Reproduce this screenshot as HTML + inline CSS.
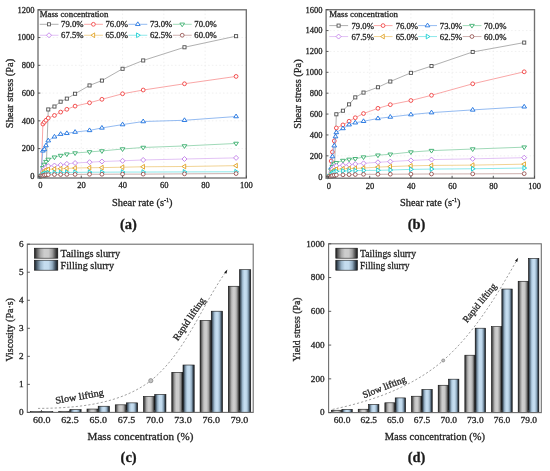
<!DOCTYPE html>
<html><head><meta charset="utf-8"><title>Rheological figure</title>
<style>html,body{margin:0;padding:0;background:#fff}svg{display:block}</style></head>
<body><svg width="550" height="471" viewBox="0 0 550 471">
<rect width="550" height="471" fill="#fff"/>
<g stroke="#e9e9e9" stroke-width="0.7" stroke-dasharray="1.5 2.2" fill="none"><line x1="81.28" y1="9.8" x2="81.28" y2="178"/><line x1="122.56" y1="9.8" x2="122.56" y2="178"/><line x1="163.84" y1="9.8" x2="163.84" y2="178"/><line x1="205.12" y1="9.8" x2="205.12" y2="178"/><line x1="38" y1="148.59" x2="246.3" y2="148.59"/><line x1="38" y1="120.83" x2="246.3" y2="120.83"/><line x1="38" y1="93.08" x2="246.3" y2="93.08"/><line x1="38" y1="65.32" x2="246.3" y2="65.32"/><line x1="38" y1="37.56" x2="246.3" y2="37.56"/></g>
<polyline points="42.89,175.93 44.33,175.66 45.99,175.24 48.26,109.45 54.45,106.54 60.64,101.68 66.83,98.63 75.09,93.77 89.54,85.44 101.92,80.58 122.56,68.79 143.2,60.46 184.48,47.27 236.08,36.17" fill="none" stroke="#9c9c9c" stroke-width="0.8"/>
<rect x="41.34" y="174.38" width="3.1" height="3.1" fill="#fff" stroke="#515151" stroke-width="0.9"/><rect x="42.78" y="174.11" width="3.1" height="3.1" fill="#fff" stroke="#515151" stroke-width="0.9"/><rect x="44.44" y="173.69" width="3.1" height="3.1" fill="#fff" stroke="#515151" stroke-width="0.9"/><rect x="46.71" y="107.9" width="3.1" height="3.1" fill="#fff" stroke="#515151" stroke-width="0.9"/><rect x="52.9" y="104.99" width="3.1" height="3.1" fill="#fff" stroke="#515151" stroke-width="0.9"/><rect x="59.09" y="100.13" width="3.1" height="3.1" fill="#fff" stroke="#515151" stroke-width="0.9"/><rect x="65.28" y="97.08" width="3.1" height="3.1" fill="#fff" stroke="#515151" stroke-width="0.9"/><rect x="73.54" y="92.22" width="3.1" height="3.1" fill="#fff" stroke="#515151" stroke-width="0.9"/><rect x="87.99" y="83.89" width="3.1" height="3.1" fill="#fff" stroke="#515151" stroke-width="0.9"/><rect x="100.37" y="79.03" width="3.1" height="3.1" fill="#fff" stroke="#515151" stroke-width="0.9"/><rect x="121.01" y="67.24" width="3.1" height="3.1" fill="#fff" stroke="#515151" stroke-width="0.9"/><rect x="141.65" y="58.91" width="3.1" height="3.1" fill="#fff" stroke="#515151" stroke-width="0.9"/><rect x="182.93" y="45.72" width="3.1" height="3.1" fill="#fff" stroke="#515151" stroke-width="0.9"/><rect x="234.53" y="34.62" width="3.1" height="3.1" fill="#fff" stroke="#515151" stroke-width="0.9"/>
<polyline points="41.24,175.66 42.89,124.03 44.33,122.22 45.99,120.28 48.26,118.06 54.45,115.42 60.64,112.09 66.83,109.31 75.09,106.12 89.54,102.79 101.92,99.32 122.56,93.77 143.2,90.02 184.48,83.78 236.08,76.42" fill="none" stroke="#f79090" stroke-width="0.8"/>
<circle cx="41.24" cy="175.66" r="1.9" fill="#fff" stroke="#F14040" stroke-width="0.9"/><circle cx="42.89" cy="124.03" r="1.9" fill="#fff" stroke="#F14040" stroke-width="0.9"/><circle cx="44.33" cy="122.22" r="1.9" fill="#fff" stroke="#F14040" stroke-width="0.9"/><circle cx="45.99" cy="120.28" r="1.9" fill="#fff" stroke="#F14040" stroke-width="0.9"/><circle cx="48.26" cy="118.06" r="1.9" fill="#fff" stroke="#F14040" stroke-width="0.9"/><circle cx="54.45" cy="115.42" r="1.9" fill="#fff" stroke="#F14040" stroke-width="0.9"/><circle cx="60.64" cy="112.09" r="1.9" fill="#fff" stroke="#F14040" stroke-width="0.9"/><circle cx="66.83" cy="109.31" r="1.9" fill="#fff" stroke="#F14040" stroke-width="0.9"/><circle cx="75.09" cy="106.12" r="1.9" fill="#fff" stroke="#F14040" stroke-width="0.9"/><circle cx="89.54" cy="102.79" r="1.9" fill="#fff" stroke="#F14040" stroke-width="0.9"/><circle cx="101.92" cy="99.32" r="1.9" fill="#fff" stroke="#F14040" stroke-width="0.9"/><circle cx="122.56" cy="93.77" r="1.9" fill="#fff" stroke="#F14040" stroke-width="0.9"/><circle cx="143.2" cy="90.02" r="1.9" fill="#fff" stroke="#F14040" stroke-width="0.9"/><circle cx="184.48" cy="83.78" r="1.9" fill="#fff" stroke="#F14040" stroke-width="0.9"/><circle cx="236.08" cy="76.42" r="1.9" fill="#fff" stroke="#F14040" stroke-width="0.9"/>
<polyline points="40.62,175.93 42.89,150.81 44.33,149.42 45.99,145.54 48.26,140.68 54.45,136.79 60.64,134.16 66.83,133.32 75.09,132.08 89.54,130.41 101.92,127.91 122.56,124.58 143.2,121.53 184.48,120.28 236.08,116.53" fill="none" stroke="#78aaee" stroke-width="0.8"/>
<polygon points="40.62,173.47 42.97,177.17 38.27,177.17" fill="#fff" stroke="#1A6FDF" stroke-width="0.9" stroke-linejoin="round"/><polygon points="42.89,148.35 45.24,152.05 40.54,152.05" fill="#fff" stroke="#1A6FDF" stroke-width="0.9" stroke-linejoin="round"/><polygon points="44.33,146.96 46.68,150.66 41.98,150.66" fill="#fff" stroke="#1A6FDF" stroke-width="0.9" stroke-linejoin="round"/><polygon points="45.99,143.07 48.34,146.77 43.64,146.77" fill="#fff" stroke="#1A6FDF" stroke-width="0.9" stroke-linejoin="round"/><polygon points="48.26,138.21 50.61,141.91 45.91,141.91" fill="#fff" stroke="#1A6FDF" stroke-width="0.9" stroke-linejoin="round"/><polygon points="54.45,134.33 56.8,138.03 52.1,138.03" fill="#fff" stroke="#1A6FDF" stroke-width="0.9" stroke-linejoin="round"/><polygon points="60.64,131.69 62.99,135.39 58.29,135.39" fill="#fff" stroke="#1A6FDF" stroke-width="0.9" stroke-linejoin="round"/><polygon points="66.83,130.86 69.18,134.56 64.48,134.56" fill="#fff" stroke="#1A6FDF" stroke-width="0.9" stroke-linejoin="round"/><polygon points="75.09,129.61 77.44,133.31 72.74,133.31" fill="#fff" stroke="#1A6FDF" stroke-width="0.9" stroke-linejoin="round"/><polygon points="89.54,127.94 91.89,131.64 87.19,131.64" fill="#fff" stroke="#1A6FDF" stroke-width="0.9" stroke-linejoin="round"/><polygon points="101.92,125.45 104.27,129.15 99.57,129.15" fill="#fff" stroke="#1A6FDF" stroke-width="0.9" stroke-linejoin="round"/><polygon points="122.56,122.11 124.91,125.81 120.21,125.81" fill="#fff" stroke="#1A6FDF" stroke-width="0.9" stroke-linejoin="round"/><polygon points="143.2,119.06 145.55,122.76 140.85,122.76" fill="#fff" stroke="#1A6FDF" stroke-width="0.9" stroke-linejoin="round"/><polygon points="184.48,117.81 186.83,121.51 182.13,121.51" fill="#fff" stroke="#1A6FDF" stroke-width="0.9" stroke-linejoin="round"/><polygon points="236.08,114.06 238.43,117.76 233.73,117.76" fill="#fff" stroke="#1A6FDF" stroke-width="0.9" stroke-linejoin="round"/>
<polyline points="40.41,176.07 42.89,167.74 44.33,164.41 45.99,161.64 48.26,159.42 54.45,157.2 60.64,155.53 66.83,154.14 75.09,153.03 89.54,151.92 101.92,150.95 122.56,149.01 143.2,147.48 184.48,145.95 236.08,143.46" fill="none" stroke="#88cfa6" stroke-width="0.8"/>
<polygon points="40.41,178.54 42.76,174.84 38.06,174.84" fill="#fff" stroke="#37AD6B" stroke-width="0.9" stroke-linejoin="round"/><polygon points="42.89,170.21 45.24,166.51 40.54,166.51" fill="#fff" stroke="#37AD6B" stroke-width="0.9" stroke-linejoin="round"/><polygon points="44.33,166.88 46.68,163.18 41.98,163.18" fill="#fff" stroke="#37AD6B" stroke-width="0.9" stroke-linejoin="round"/><polygon points="45.99,164.1 48.34,160.4 43.64,160.4" fill="#fff" stroke="#37AD6B" stroke-width="0.9" stroke-linejoin="round"/><polygon points="48.26,161.88 50.61,158.18 45.91,158.18" fill="#fff" stroke="#37AD6B" stroke-width="0.9" stroke-linejoin="round"/><polygon points="54.45,159.66 56.8,155.96 52.1,155.96" fill="#fff" stroke="#37AD6B" stroke-width="0.9" stroke-linejoin="round"/><polygon points="60.64,158 62.99,154.3 58.29,154.3" fill="#fff" stroke="#37AD6B" stroke-width="0.9" stroke-linejoin="round"/><polygon points="66.83,156.61 69.18,152.91 64.48,152.91" fill="#fff" stroke="#37AD6B" stroke-width="0.9" stroke-linejoin="round"/><polygon points="75.09,155.5 77.44,151.8 72.74,151.8" fill="#fff" stroke="#37AD6B" stroke-width="0.9" stroke-linejoin="round"/><polygon points="89.54,154.39 91.89,150.69 87.19,150.69" fill="#fff" stroke="#37AD6B" stroke-width="0.9" stroke-linejoin="round"/><polygon points="101.92,153.42 104.27,149.72 99.57,149.72" fill="#fff" stroke="#37AD6B" stroke-width="0.9" stroke-linejoin="round"/><polygon points="122.56,151.47 124.91,147.77 120.21,147.77" fill="#fff" stroke="#37AD6B" stroke-width="0.9" stroke-linejoin="round"/><polygon points="143.2,149.95 145.55,146.25 140.85,146.25" fill="#fff" stroke="#37AD6B" stroke-width="0.9" stroke-linejoin="round"/><polygon points="184.48,148.42 186.83,144.72 182.13,144.72" fill="#fff" stroke="#37AD6B" stroke-width="0.9" stroke-linejoin="round"/><polygon points="236.08,145.92 238.43,142.22 233.73,142.22" fill="#fff" stroke="#37AD6B" stroke-width="0.9" stroke-linejoin="round"/>
<polyline points="40.41,176.07 42.89,171.35 44.33,168.86 45.99,167.19 48.26,166.08 54.45,165.52 60.64,164.97 66.83,163.86 75.09,163.03 89.54,162.19 101.92,161.5 122.56,160.81 143.2,159.97 184.48,159 236.08,157.89" fill="none" stroke="#dcb4f2" stroke-width="0.8"/>
<polygon points="40.41,173.57 42.91,176.07 40.41,178.57 37.91,176.07" fill="#fff" stroke="#C07DE8" stroke-width="0.9" stroke-linejoin="round"/><polygon points="42.89,168.85 45.39,171.35 42.89,173.85 40.39,171.35" fill="#fff" stroke="#C07DE8" stroke-width="0.9" stroke-linejoin="round"/><polygon points="44.33,166.36 46.83,168.86 44.33,171.36 41.83,168.86" fill="#fff" stroke="#C07DE8" stroke-width="0.9" stroke-linejoin="round"/><polygon points="45.99,164.69 48.49,167.19 45.99,169.69 43.49,167.19" fill="#fff" stroke="#C07DE8" stroke-width="0.9" stroke-linejoin="round"/><polygon points="48.26,163.58 50.76,166.08 48.26,168.58 45.76,166.08" fill="#fff" stroke="#C07DE8" stroke-width="0.9" stroke-linejoin="round"/><polygon points="54.45,163.02 56.95,165.52 54.45,168.02 51.95,165.52" fill="#fff" stroke="#C07DE8" stroke-width="0.9" stroke-linejoin="round"/><polygon points="60.64,162.47 63.14,164.97 60.64,167.47 58.14,164.97" fill="#fff" stroke="#C07DE8" stroke-width="0.9" stroke-linejoin="round"/><polygon points="66.83,161.36 69.33,163.86 66.83,166.36 64.33,163.86" fill="#fff" stroke="#C07DE8" stroke-width="0.9" stroke-linejoin="round"/><polygon points="75.09,160.53 77.59,163.03 75.09,165.53 72.59,163.03" fill="#fff" stroke="#C07DE8" stroke-width="0.9" stroke-linejoin="round"/><polygon points="89.54,159.69 92.04,162.19 89.54,164.69 87.04,162.19" fill="#fff" stroke="#C07DE8" stroke-width="0.9" stroke-linejoin="round"/><polygon points="101.92,159 104.42,161.5 101.92,164 99.42,161.5" fill="#fff" stroke="#C07DE8" stroke-width="0.9" stroke-linejoin="round"/><polygon points="122.56,158.31 125.06,160.81 122.56,163.31 120.06,160.81" fill="#fff" stroke="#C07DE8" stroke-width="0.9" stroke-linejoin="round"/><polygon points="143.2,157.47 145.7,159.97 143.2,162.47 140.7,159.97" fill="#fff" stroke="#C07DE8" stroke-width="0.9" stroke-linejoin="round"/><polygon points="184.48,156.5 186.98,159 184.48,161.5 181.98,159" fill="#fff" stroke="#C07DE8" stroke-width="0.9" stroke-linejoin="round"/><polygon points="236.08,155.39 238.58,157.89 236.08,160.39 233.58,157.89" fill="#fff" stroke="#C07DE8" stroke-width="0.9" stroke-linejoin="round"/>
<polyline points="40.41,176.07 42.89,172.88 44.33,171.08 45.99,169.97 48.26,169.41 54.45,168.99 60.64,168.72 66.83,168.44 75.09,168.02 89.54,167.74 101.92,167.61 122.56,167.19 143.2,166.77 184.48,166.5 236.08,165.66" fill="none" stroke="#edc878" stroke-width="0.8"/>
<polygon points="37.95,176.07 41.65,173.72 41.65,178.42" fill="#fff" stroke="#E0A020" stroke-width="0.9" stroke-linejoin="round"/><polygon points="40.42,172.88 44.12,170.53 44.12,175.23" fill="#fff" stroke="#E0A020" stroke-width="0.9" stroke-linejoin="round"/><polygon points="41.87,171.08 45.57,168.73 45.57,173.43" fill="#fff" stroke="#E0A020" stroke-width="0.9" stroke-linejoin="round"/><polygon points="43.52,169.97 47.22,167.62 47.22,172.32" fill="#fff" stroke="#E0A020" stroke-width="0.9" stroke-linejoin="round"/><polygon points="45.79,169.41 49.49,167.06 49.49,171.76" fill="#fff" stroke="#E0A020" stroke-width="0.9" stroke-linejoin="round"/><polygon points="51.98,168.99 55.68,166.64 55.68,171.34" fill="#fff" stroke="#E0A020" stroke-width="0.9" stroke-linejoin="round"/><polygon points="58.17,168.72 61.87,166.37 61.87,171.07" fill="#fff" stroke="#E0A020" stroke-width="0.9" stroke-linejoin="round"/><polygon points="64.37,168.44 68.07,166.09 68.07,170.79" fill="#fff" stroke="#E0A020" stroke-width="0.9" stroke-linejoin="round"/><polygon points="72.62,168.02 76.32,165.67 76.32,170.37" fill="#fff" stroke="#E0A020" stroke-width="0.9" stroke-linejoin="round"/><polygon points="87.07,167.74 90.77,165.39 90.77,170.09" fill="#fff" stroke="#E0A020" stroke-width="0.9" stroke-linejoin="round"/><polygon points="99.45,167.61 103.15,165.26 103.15,169.96" fill="#fff" stroke="#E0A020" stroke-width="0.9" stroke-linejoin="round"/><polygon points="120.09,167.19 123.79,164.84 123.79,169.54" fill="#fff" stroke="#E0A020" stroke-width="0.9" stroke-linejoin="round"/><polygon points="140.73,166.77 144.43,164.42 144.43,169.12" fill="#fff" stroke="#E0A020" stroke-width="0.9" stroke-linejoin="round"/><polygon points="182.01,166.5 185.71,164.15 185.71,168.85" fill="#fff" stroke="#E0A020" stroke-width="0.9" stroke-linejoin="round"/><polygon points="233.61,165.66 237.31,163.31 237.31,168.01" fill="#fff" stroke="#E0A020" stroke-width="0.9" stroke-linejoin="round"/>
<polyline points="40.41,176.21 42.89,174.68 44.33,173.85 45.99,173.3 48.26,172.88 54.45,172.74 60.64,172.6 66.83,172.46 75.09,172.33 89.54,172.19 101.92,172.19 122.56,172.05 143.2,172.05 184.48,171.91 236.08,171.77" fill="none" stroke="#70e2e4" stroke-width="0.8"/>
<polygon points="42.88,176.21 39.18,173.86 39.18,178.56" fill="#fff" stroke="#10CCD0" stroke-width="0.9" stroke-linejoin="round"/><polygon points="45.36,174.68 41.66,172.33 41.66,177.03" fill="#fff" stroke="#10CCD0" stroke-width="0.9" stroke-linejoin="round"/><polygon points="46.8,173.85 43.1,171.5 43.1,176.2" fill="#fff" stroke="#10CCD0" stroke-width="0.9" stroke-linejoin="round"/><polygon points="48.45,173.3 44.75,170.95 44.75,175.65" fill="#fff" stroke="#10CCD0" stroke-width="0.9" stroke-linejoin="round"/><polygon points="50.72,172.88 47.02,170.53 47.02,175.23" fill="#fff" stroke="#10CCD0" stroke-width="0.9" stroke-linejoin="round"/><polygon points="56.91,172.74 53.21,170.39 53.21,175.09" fill="#fff" stroke="#10CCD0" stroke-width="0.9" stroke-linejoin="round"/><polygon points="63.11,172.6 59.41,170.25 59.41,174.95" fill="#fff" stroke="#10CCD0" stroke-width="0.9" stroke-linejoin="round"/><polygon points="69.3,172.46 65.6,170.11 65.6,174.81" fill="#fff" stroke="#10CCD0" stroke-width="0.9" stroke-linejoin="round"/><polygon points="77.55,172.33 73.85,169.98 73.85,174.68" fill="#fff" stroke="#10CCD0" stroke-width="0.9" stroke-linejoin="round"/><polygon points="92,172.19 88.3,169.84 88.3,174.54" fill="#fff" stroke="#10CCD0" stroke-width="0.9" stroke-linejoin="round"/><polygon points="104.39,172.19 100.69,169.84 100.69,174.54" fill="#fff" stroke="#10CCD0" stroke-width="0.9" stroke-linejoin="round"/><polygon points="125.03,172.05 121.33,169.7 121.33,174.4" fill="#fff" stroke="#10CCD0" stroke-width="0.9" stroke-linejoin="round"/><polygon points="145.67,172.05 141.97,169.7 141.97,174.4" fill="#fff" stroke="#10CCD0" stroke-width="0.9" stroke-linejoin="round"/><polygon points="186.95,171.91 183.25,169.56 183.25,174.26" fill="#fff" stroke="#10CCD0" stroke-width="0.9" stroke-linejoin="round"/><polygon points="238.55,171.77 234.85,169.42 234.85,174.12" fill="#fff" stroke="#10CCD0" stroke-width="0.9" stroke-linejoin="round"/>
<polyline points="40.41,176.21 42.89,175.52 44.33,175.1 45.99,174.82 48.26,174.68 54.45,174.55 60.64,174.55 66.83,174.41 75.09,174.41 89.54,174.27 101.92,174.27 122.56,174.13 143.2,174.13 184.48,173.85 236.08,173.57" fill="none" stroke="#c09a98" stroke-width="0.8"/>
<circle cx="40.41" cy="176.21" r="1.9" fill="#fff" stroke="#94504E" stroke-width="0.9"/><circle cx="42.89" cy="175.52" r="1.9" fill="#fff" stroke="#94504E" stroke-width="0.9"/><circle cx="44.33" cy="175.1" r="1.9" fill="#fff" stroke="#94504E" stroke-width="0.9"/><circle cx="45.99" cy="174.82" r="1.9" fill="#fff" stroke="#94504E" stroke-width="0.9"/><circle cx="48.26" cy="174.68" r="1.9" fill="#fff" stroke="#94504E" stroke-width="0.9"/><circle cx="54.45" cy="174.55" r="1.9" fill="#fff" stroke="#94504E" stroke-width="0.9"/><circle cx="60.64" cy="174.55" r="1.9" fill="#fff" stroke="#94504E" stroke-width="0.9"/><circle cx="66.83" cy="174.41" r="1.9" fill="#fff" stroke="#94504E" stroke-width="0.9"/><circle cx="75.09" cy="174.41" r="1.9" fill="#fff" stroke="#94504E" stroke-width="0.9"/><circle cx="89.54" cy="174.27" r="1.9" fill="#fff" stroke="#94504E" stroke-width="0.9"/><circle cx="101.92" cy="174.27" r="1.9" fill="#fff" stroke="#94504E" stroke-width="0.9"/><circle cx="122.56" cy="174.13" r="1.9" fill="#fff" stroke="#94504E" stroke-width="0.9"/><circle cx="143.2" cy="174.13" r="1.9" fill="#fff" stroke="#94504E" stroke-width="0.9"/><circle cx="184.48" cy="173.85" r="1.9" fill="#fff" stroke="#94504E" stroke-width="0.9"/><circle cx="236.08" cy="173.57" r="1.9" fill="#fff" stroke="#94504E" stroke-width="0.9"/>
<rect x="38" y="9.8" width="208.3" height="168.2" fill="none" stroke="#707070" stroke-width="1.35"/>
<g stroke="#4a4a4a" stroke-width="0.9"><line x1="40" y1="178" x2="40" y2="175.6"/><line x1="81.28" y1="178" x2="81.28" y2="175.6"/><line x1="122.56" y1="178" x2="122.56" y2="175.6"/><line x1="163.84" y1="178" x2="163.84" y2="175.6"/><line x1="205.12" y1="178" x2="205.12" y2="175.6"/><line x1="246.4" y1="178" x2="246.4" y2="175.6"/><line x1="38" y1="176.35" x2="40.4" y2="176.35"/><line x1="38" y1="148.59" x2="40.4" y2="148.59"/><line x1="38" y1="120.83" x2="40.4" y2="120.83"/><line x1="38" y1="93.08" x2="40.4" y2="93.08"/><line x1="38" y1="65.32" x2="40.4" y2="65.32"/><line x1="38" y1="37.56" x2="40.4" y2="37.56"/><line x1="38" y1="9.8" x2="40.4" y2="9.8"/></g>
<g font-family="Liberation Serif, serif" stroke="#262626" stroke-width="0.3" font-size="8.5" fill="#262626">
<text x="40.3" y="188.3" text-anchor="middle">0</text>
<text x="81.58" y="188.3" text-anchor="middle">20</text>
<text x="122.86" y="188.3" text-anchor="middle">40</text>
<text x="164.14" y="188.3" text-anchor="middle">60</text>
<text x="205.42" y="188.3" text-anchor="middle">80</text>
<text x="246.4" y="188.3" text-anchor="middle">100</text>
<text x="34.4" y="179.25" text-anchor="end">0</text>
<text x="34.4" y="151.49" text-anchor="end">200</text>
<text x="34.4" y="123.73" text-anchor="end">400</text>
<text x="34.4" y="95.98" text-anchor="end">600</text>
<text x="34.4" y="68.22" text-anchor="end">800</text>
<text x="34.4" y="40.46" text-anchor="end">1000</text>
<text x="34.4" y="12.7" text-anchor="end">1200</text>
</g>
<text font-family="Liberation Serif, serif" stroke="#262626" stroke-width="0.3" font-size="10.4" fill="#262626" text-anchor="middle" transform="translate(12.9,93.5) rotate(-90)">Shear stress (Pa)</text>
<text font-family="Liberation Serif, serif" stroke="#262626" stroke-width="0.3" font-size="10.4" fill="#262626" text-anchor="middle" x="142.3" y="206.4">Shear rate (s<tspan font-size="6.2" dy="-4.2">-1</tspan><tspan dy="4.2">)</tspan></text>
<text font-family="Liberation Serif, serif" stroke="#262626" stroke-width="0.3" font-size="14.5" font-weight="bold" fill="#1a1a1a" text-anchor="middle" x="128.4" y="229">(a)</text>
<text font-family="Liberation Serif, serif" stroke="#262626" stroke-width="0.3" font-size="8.8" fill="#262626" x="39.7" y="16.7">Mass concentration</text>
<line x1="39.7" y1="24.3" x2="58.5" y2="24.3" stroke="#9c9c9c" stroke-width="0.8"/>
<rect x="47.45" y="22.75" width="3.1" height="3.1" fill="#fff" stroke="#515151" stroke-width="0.85"/>
<text font-family="Liberation Serif, serif" stroke="#262626" stroke-width="0.3" font-size="8.7" fill="#262626" x="61.1" y="27.3">79.0%</text>
<line x1="84.1" y1="24.3" x2="102.9" y2="24.3" stroke="#f79090" stroke-width="0.8"/>
<circle cx="93.4" cy="24.3" r="1.9" fill="#fff" stroke="#F14040" stroke-width="0.85"/>
<text font-family="Liberation Serif, serif" stroke="#262626" stroke-width="0.3" font-size="8.7" fill="#262626" x="105.5" y="27.3">76.0%</text>
<line x1="128.5" y1="24.3" x2="147.3" y2="24.3" stroke="#78aaee" stroke-width="0.8"/>
<polygon points="137.8,21.83 140.15,25.53 135.45,25.53" fill="#fff" stroke="#1A6FDF" stroke-width="0.85" stroke-linejoin="round"/>
<text font-family="Liberation Serif, serif" stroke="#262626" stroke-width="0.3" font-size="8.7" fill="#262626" x="149.9" y="27.3">73.0%</text>
<line x1="172.9" y1="24.3" x2="191.7" y2="24.3" stroke="#88cfa6" stroke-width="0.8"/>
<polygon points="182.2,26.77 184.55,23.07 179.85,23.07" fill="#fff" stroke="#37AD6B" stroke-width="0.85" stroke-linejoin="round"/>
<text font-family="Liberation Serif, serif" stroke="#262626" stroke-width="0.3" font-size="8.7" fill="#262626" x="194.3" y="27.3">70.0%</text>
<line x1="39.7" y1="35.25" x2="58.5" y2="35.25" stroke="#dcb4f2" stroke-width="0.8"/>
<polygon points="49,32.75 51.5,35.25 49,37.75 46.5,35.25" fill="#fff" stroke="#C07DE8" stroke-width="0.85" stroke-linejoin="round"/>
<text font-family="Liberation Serif, serif" stroke="#262626" stroke-width="0.3" font-size="8.7" fill="#262626" x="61.1" y="38.25">67.5%</text>
<line x1="84.1" y1="35.25" x2="102.9" y2="35.25" stroke="#edc878" stroke-width="0.8"/>
<polygon points="90.93,35.25 94.63,32.9 94.63,37.6" fill="#fff" stroke="#E0A020" stroke-width="0.85" stroke-linejoin="round"/>
<text font-family="Liberation Serif, serif" stroke="#262626" stroke-width="0.3" font-size="8.7" fill="#262626" x="105.5" y="38.25">65.0%</text>
<line x1="128.5" y1="35.25" x2="147.3" y2="35.25" stroke="#70e2e4" stroke-width="0.8"/>
<polygon points="140.27,35.25 136.57,32.9 136.57,37.6" fill="#fff" stroke="#10CCD0" stroke-width="0.85" stroke-linejoin="round"/>
<text font-family="Liberation Serif, serif" stroke="#262626" stroke-width="0.3" font-size="8.7" fill="#262626" x="149.9" y="38.25">62.5%</text>
<line x1="172.9" y1="35.25" x2="191.7" y2="35.25" stroke="#c09a98" stroke-width="0.8"/>
<circle cx="182.2" cy="35.25" r="1.9" fill="#fff" stroke="#94504E" stroke-width="0.85"/>
<text font-family="Liberation Serif, serif" stroke="#262626" stroke-width="0.3" font-size="8.7" fill="#262626" x="194.3" y="38.25">60.0%</text>
<g stroke="#e9e9e9" stroke-width="0.7" stroke-dasharray="1.5 2.2" fill="none"><line x1="369.7" y1="9.7" x2="369.7" y2="178.2"/><line x1="410.9" y1="9.7" x2="410.9" y2="178.2"/><line x1="452.1" y1="9.7" x2="452.1" y2="178.2"/><line x1="493.3" y1="9.7" x2="493.3" y2="178.2"/><line x1="326.1" y1="155.82" x2="534.5" y2="155.82"/><line x1="326.1" y1="134.95" x2="534.5" y2="134.95"/><line x1="326.1" y1="114.07" x2="534.5" y2="114.07"/><line x1="326.1" y1="93.2" x2="534.5" y2="93.2"/><line x1="326.1" y1="72.32" x2="534.5" y2="72.32"/><line x1="326.1" y1="51.45" x2="534.5" y2="51.45"/><line x1="326.1" y1="30.57" x2="534.5" y2="30.57"/></g>
<polyline points="331.18,176.39 332.41,176.18 334.27,175.86 336.33,114.28 342.92,110.73 349.1,104.37 355.28,97.37 363.52,92.57 377.94,87.25 390.3,81.51 410.9,72.85 431.5,66.06 472.7,51.97 524.2,42.58" fill="none" stroke="#9c9c9c" stroke-width="0.8"/>
<rect x="329.63" y="174.84" width="3.1" height="3.1" fill="#fff" stroke="#515151" stroke-width="0.9"/><rect x="330.86" y="174.63" width="3.1" height="3.1" fill="#fff" stroke="#515151" stroke-width="0.9"/><rect x="332.72" y="174.31" width="3.1" height="3.1" fill="#fff" stroke="#515151" stroke-width="0.9"/><rect x="334.78" y="112.73" width="3.1" height="3.1" fill="#fff" stroke="#515151" stroke-width="0.9"/><rect x="341.37" y="109.18" width="3.1" height="3.1" fill="#fff" stroke="#515151" stroke-width="0.9"/><rect x="347.55" y="102.82" width="3.1" height="3.1" fill="#fff" stroke="#515151" stroke-width="0.9"/><rect x="353.73" y="95.82" width="3.1" height="3.1" fill="#fff" stroke="#515151" stroke-width="0.9"/><rect x="361.97" y="91.02" width="3.1" height="3.1" fill="#fff" stroke="#515151" stroke-width="0.9"/><rect x="376.39" y="85.7" width="3.1" height="3.1" fill="#fff" stroke="#515151" stroke-width="0.9"/><rect x="388.75" y="79.96" width="3.1" height="3.1" fill="#fff" stroke="#515151" stroke-width="0.9"/><rect x="409.35" y="71.3" width="3.1" height="3.1" fill="#fff" stroke="#515151" stroke-width="0.9"/><rect x="429.95" y="64.51" width="3.1" height="3.1" fill="#fff" stroke="#515151" stroke-width="0.9"/><rect x="471.15" y="50.42" width="3.1" height="3.1" fill="#fff" stroke="#515151" stroke-width="0.9"/><rect x="522.65" y="41.03" width="3.1" height="3.1" fill="#fff" stroke="#515151" stroke-width="0.9"/>
<polyline points="329.32,176.18 331.18,161.04 332.41,151.96 334.27,140.9 336.33,127.96 342.92,124.93 349.1,121.28 355.28,117.73 363.52,113.55 377.94,108.33 390.3,104.68 410.9,100.51 431.5,95.29 472.7,83.81 524.2,71.8" fill="none" stroke="#f79090" stroke-width="0.8"/>
<circle cx="329.32" cy="176.18" r="1.9" fill="#fff" stroke="#F14040" stroke-width="0.9"/><circle cx="331.18" cy="161.04" r="1.9" fill="#fff" stroke="#F14040" stroke-width="0.9"/><circle cx="332.41" cy="151.96" r="1.9" fill="#fff" stroke="#F14040" stroke-width="0.9"/><circle cx="334.27" cy="140.9" r="1.9" fill="#fff" stroke="#F14040" stroke-width="0.9"/><circle cx="336.33" cy="127.96" r="1.9" fill="#fff" stroke="#F14040" stroke-width="0.9"/><circle cx="342.92" cy="124.93" r="1.9" fill="#fff" stroke="#F14040" stroke-width="0.9"/><circle cx="349.1" cy="121.28" r="1.9" fill="#fff" stroke="#F14040" stroke-width="0.9"/><circle cx="355.28" cy="117.73" r="1.9" fill="#fff" stroke="#F14040" stroke-width="0.9"/><circle cx="363.52" cy="113.55" r="1.9" fill="#fff" stroke="#F14040" stroke-width="0.9"/><circle cx="377.94" cy="108.33" r="1.9" fill="#fff" stroke="#F14040" stroke-width="0.9"/><circle cx="390.3" cy="104.68" r="1.9" fill="#fff" stroke="#F14040" stroke-width="0.9"/><circle cx="410.9" cy="100.51" r="1.9" fill="#fff" stroke="#F14040" stroke-width="0.9"/><circle cx="431.5" cy="95.29" r="1.9" fill="#fff" stroke="#F14040" stroke-width="0.9"/><circle cx="472.7" cy="83.81" r="1.9" fill="#fff" stroke="#F14040" stroke-width="0.9"/><circle cx="524.2" cy="71.8" r="1.9" fill="#fff" stroke="#F14040" stroke-width="0.9"/>
<polyline points="329.12,176.39 331.18,167.83 332.41,156.56 334.27,145.7 335.5,136.62 336.33,132.44 342.92,128.48 349.1,124.72 355.28,122.74 363.52,121.28 377.94,118.46 390.3,117 410.9,114.6 431.5,112.61 472.7,109.9 524.2,106.77" fill="none" stroke="#78aaee" stroke-width="0.8"/>
<polygon points="329.12,173.92 331.47,177.62 326.77,177.62" fill="#fff" stroke="#1A6FDF" stroke-width="0.9" stroke-linejoin="round"/><polygon points="331.18,165.36 333.53,169.06 328.83,169.06" fill="#fff" stroke="#1A6FDF" stroke-width="0.9" stroke-linejoin="round"/><polygon points="332.41,154.09 334.76,157.79 330.06,157.79" fill="#fff" stroke="#1A6FDF" stroke-width="0.9" stroke-linejoin="round"/><polygon points="334.27,143.23 336.62,146.93 331.92,146.93" fill="#fff" stroke="#1A6FDF" stroke-width="0.9" stroke-linejoin="round"/><polygon points="335.5,134.15 337.85,137.85 333.15,137.85" fill="#fff" stroke="#1A6FDF" stroke-width="0.9" stroke-linejoin="round"/><polygon points="336.33,129.98 338.68,133.68 333.98,133.68" fill="#fff" stroke="#1A6FDF" stroke-width="0.9" stroke-linejoin="round"/><polygon points="342.92,126.01 345.27,129.71 340.57,129.71" fill="#fff" stroke="#1A6FDF" stroke-width="0.9" stroke-linejoin="round"/><polygon points="349.1,122.25 351.45,125.95 346.75,125.95" fill="#fff" stroke="#1A6FDF" stroke-width="0.9" stroke-linejoin="round"/><polygon points="355.28,120.27 357.63,123.97 352.93,123.97" fill="#fff" stroke="#1A6FDF" stroke-width="0.9" stroke-linejoin="round"/><polygon points="363.52,118.81 365.87,122.51 361.17,122.51" fill="#fff" stroke="#1A6FDF" stroke-width="0.9" stroke-linejoin="round"/><polygon points="377.94,115.99 380.29,119.69 375.59,119.69" fill="#fff" stroke="#1A6FDF" stroke-width="0.9" stroke-linejoin="round"/><polygon points="390.3,114.53 392.65,118.23 387.95,118.23" fill="#fff" stroke="#1A6FDF" stroke-width="0.9" stroke-linejoin="round"/><polygon points="410.9,112.13 413.25,115.83 408.55,115.83" fill="#fff" stroke="#1A6FDF" stroke-width="0.9" stroke-linejoin="round"/><polygon points="431.5,110.15 433.85,113.85 429.15,113.85" fill="#fff" stroke="#1A6FDF" stroke-width="0.9" stroke-linejoin="round"/><polygon points="472.7,107.43 475.05,111.13 470.35,111.13" fill="#fff" stroke="#1A6FDF" stroke-width="0.9" stroke-linejoin="round"/><polygon points="524.2,104.3 526.55,108 521.85,108" fill="#fff" stroke="#1A6FDF" stroke-width="0.9" stroke-linejoin="round"/>
<polyline points="328.91,176.49 331.18,170.44 332.41,166.78 334.27,163.97 336.33,162.71 342.92,160.52 349.1,159.37 355.28,158.75 363.52,157.08 377.94,155.2 390.3,154.26 410.9,152.07 431.5,150.61 472.7,149.04 524.2,147.16" fill="none" stroke="#88cfa6" stroke-width="0.8"/>
<polygon points="328.91,178.96 331.26,175.26 326.56,175.26" fill="#fff" stroke="#37AD6B" stroke-width="0.9" stroke-linejoin="round"/><polygon points="331.18,172.9 333.53,169.2 328.83,169.2" fill="#fff" stroke="#37AD6B" stroke-width="0.9" stroke-linejoin="round"/><polygon points="332.41,169.25 334.76,165.55 330.06,165.55" fill="#fff" stroke="#37AD6B" stroke-width="0.9" stroke-linejoin="round"/><polygon points="334.27,166.43 336.62,162.73 331.92,162.73" fill="#fff" stroke="#37AD6B" stroke-width="0.9" stroke-linejoin="round"/><polygon points="336.33,165.18 338.68,161.48 333.98,161.48" fill="#fff" stroke="#37AD6B" stroke-width="0.9" stroke-linejoin="round"/><polygon points="342.92,162.99 345.27,159.29 340.57,159.29" fill="#fff" stroke="#37AD6B" stroke-width="0.9" stroke-linejoin="round"/><polygon points="349.1,161.84 351.45,158.14 346.75,158.14" fill="#fff" stroke="#37AD6B" stroke-width="0.9" stroke-linejoin="round"/><polygon points="355.28,161.21 357.63,157.51 352.93,157.51" fill="#fff" stroke="#37AD6B" stroke-width="0.9" stroke-linejoin="round"/><polygon points="363.52,159.54 365.87,155.84 361.17,155.84" fill="#fff" stroke="#37AD6B" stroke-width="0.9" stroke-linejoin="round"/><polygon points="377.94,157.67 380.29,153.97 375.59,153.97" fill="#fff" stroke="#37AD6B" stroke-width="0.9" stroke-linejoin="round"/><polygon points="390.3,156.73 392.65,153.03 387.95,153.03" fill="#fff" stroke="#37AD6B" stroke-width="0.9" stroke-linejoin="round"/><polygon points="410.9,154.53 413.25,150.83 408.55,150.83" fill="#fff" stroke="#37AD6B" stroke-width="0.9" stroke-linejoin="round"/><polygon points="431.5,153.07 433.85,149.37 429.15,149.37" fill="#fff" stroke="#37AD6B" stroke-width="0.9" stroke-linejoin="round"/><polygon points="472.7,151.51 475.05,147.81 470.35,147.81" fill="#fff" stroke="#37AD6B" stroke-width="0.9" stroke-linejoin="round"/><polygon points="524.2,149.63 526.55,145.93 521.85,145.93" fill="#fff" stroke="#37AD6B" stroke-width="0.9" stroke-linejoin="round"/>
<polyline points="328.91,176.49 331.18,172 332.41,169.19 334.27,167.1 336.33,165.95 342.92,165.22 349.1,164.7 355.28,164.07 363.52,163.34 377.94,162.3 390.3,161.57 410.9,160.42 431.5,159.58 472.7,158.85 524.2,157.7" fill="none" stroke="#dcb4f2" stroke-width="0.8"/>
<polygon points="328.91,173.99 331.41,176.49 328.91,178.99 326.41,176.49" fill="#fff" stroke="#C07DE8" stroke-width="0.9" stroke-linejoin="round"/><polygon points="331.18,169.5 333.68,172 331.18,174.5 328.68,172" fill="#fff" stroke="#C07DE8" stroke-width="0.9" stroke-linejoin="round"/><polygon points="332.41,166.69 334.91,169.19 332.41,171.69 329.91,169.19" fill="#fff" stroke="#C07DE8" stroke-width="0.9" stroke-linejoin="round"/><polygon points="334.27,164.6 336.77,167.1 334.27,169.6 331.77,167.1" fill="#fff" stroke="#C07DE8" stroke-width="0.9" stroke-linejoin="round"/><polygon points="336.33,163.45 338.83,165.95 336.33,168.45 333.83,165.95" fill="#fff" stroke="#C07DE8" stroke-width="0.9" stroke-linejoin="round"/><polygon points="342.92,162.72 345.42,165.22 342.92,167.72 340.42,165.22" fill="#fff" stroke="#C07DE8" stroke-width="0.9" stroke-linejoin="round"/><polygon points="349.1,162.2 351.6,164.7 349.1,167.2 346.6,164.7" fill="#fff" stroke="#C07DE8" stroke-width="0.9" stroke-linejoin="round"/><polygon points="355.28,161.57 357.78,164.07 355.28,166.57 352.78,164.07" fill="#fff" stroke="#C07DE8" stroke-width="0.9" stroke-linejoin="round"/><polygon points="363.52,160.84 366.02,163.34 363.52,165.84 361.02,163.34" fill="#fff" stroke="#C07DE8" stroke-width="0.9" stroke-linejoin="round"/><polygon points="377.94,159.8 380.44,162.3 377.94,164.8 375.44,162.3" fill="#fff" stroke="#C07DE8" stroke-width="0.9" stroke-linejoin="round"/><polygon points="390.3,159.07 392.8,161.57 390.3,164.07 387.8,161.57" fill="#fff" stroke="#C07DE8" stroke-width="0.9" stroke-linejoin="round"/><polygon points="410.9,157.92 413.4,160.42 410.9,162.92 408.4,160.42" fill="#fff" stroke="#C07DE8" stroke-width="0.9" stroke-linejoin="round"/><polygon points="431.5,157.08 434,159.58 431.5,162.08 429,159.58" fill="#fff" stroke="#C07DE8" stroke-width="0.9" stroke-linejoin="round"/><polygon points="472.7,156.35 475.2,158.85 472.7,161.35 470.2,158.85" fill="#fff" stroke="#C07DE8" stroke-width="0.9" stroke-linejoin="round"/><polygon points="524.2,155.2 526.7,157.7 524.2,160.2 521.7,157.7" fill="#fff" stroke="#C07DE8" stroke-width="0.9" stroke-linejoin="round"/>
<polyline points="328.91,176.49 331.18,173.57 332.41,171.48 334.27,170.02 336.33,169.19 342.92,168.77 349.1,168.56 355.28,168.35 363.52,168.04 377.94,167.1 390.3,166.58 410.9,165.84 431.5,165.43 472.7,165.11 524.2,164.17" fill="none" stroke="#edc878" stroke-width="0.8"/>
<polygon points="326.45,176.49 330.15,174.14 330.15,178.84" fill="#fff" stroke="#E0A020" stroke-width="0.9" stroke-linejoin="round"/><polygon points="328.71,173.57 332.41,171.22 332.41,175.92" fill="#fff" stroke="#E0A020" stroke-width="0.9" stroke-linejoin="round"/><polygon points="329.95,171.48 333.65,169.13 333.65,173.83" fill="#fff" stroke="#E0A020" stroke-width="0.9" stroke-linejoin="round"/><polygon points="331.8,170.02 335.5,167.67 335.5,172.37" fill="#fff" stroke="#E0A020" stroke-width="0.9" stroke-linejoin="round"/><polygon points="333.86,169.19 337.56,166.84 337.56,171.53" fill="#fff" stroke="#E0A020" stroke-width="0.9" stroke-linejoin="round"/><polygon points="340.45,168.77 344.15,166.42 344.15,171.12" fill="#fff" stroke="#E0A020" stroke-width="0.9" stroke-linejoin="round"/><polygon points="346.63,168.56 350.33,166.21 350.33,170.91" fill="#fff" stroke="#E0A020" stroke-width="0.9" stroke-linejoin="round"/><polygon points="352.81,168.35 356.51,166 356.51,170.7" fill="#fff" stroke="#E0A020" stroke-width="0.9" stroke-linejoin="round"/><polygon points="361.05,168.04 364.75,165.69 364.75,170.39" fill="#fff" stroke="#E0A020" stroke-width="0.9" stroke-linejoin="round"/><polygon points="375.47,167.1 379.17,164.75 379.17,169.45" fill="#fff" stroke="#E0A020" stroke-width="0.9" stroke-linejoin="round"/><polygon points="387.83,166.58 391.53,164.23 391.53,168.93" fill="#fff" stroke="#E0A020" stroke-width="0.9" stroke-linejoin="round"/><polygon points="408.43,165.84 412.13,163.5 412.13,168.19" fill="#fff" stroke="#E0A020" stroke-width="0.9" stroke-linejoin="round"/><polygon points="429.03,165.43 432.73,163.08 432.73,167.78" fill="#fff" stroke="#E0A020" stroke-width="0.9" stroke-linejoin="round"/><polygon points="470.23,165.11 473.93,162.76 473.93,167.46" fill="#fff" stroke="#E0A020" stroke-width="0.9" stroke-linejoin="round"/><polygon points="521.73,164.17 525.43,161.82 525.43,166.52" fill="#fff" stroke="#E0A020" stroke-width="0.9" stroke-linejoin="round"/>
<polyline points="328.91,176.6 331.18,174.4 332.41,173.05 334.27,172 336.33,171.38 342.92,170.96 349.1,170.75 355.28,170.65 363.52,170.44 377.94,170.33 390.3,170.02 410.9,169.39 431.5,169.08 472.7,168.77 524.2,168.04" fill="none" stroke="#70e2e4" stroke-width="0.8"/>
<polygon points="331.38,176.6 327.68,174.25 327.68,178.95" fill="#fff" stroke="#10CCD0" stroke-width="0.9" stroke-linejoin="round"/><polygon points="333.64,174.4 329.94,172.05 329.94,176.75" fill="#fff" stroke="#10CCD0" stroke-width="0.9" stroke-linejoin="round"/><polygon points="334.88,173.05 331.18,170.7 331.18,175.4" fill="#fff" stroke="#10CCD0" stroke-width="0.9" stroke-linejoin="round"/><polygon points="336.73,172 333.03,169.65 333.03,174.35" fill="#fff" stroke="#10CCD0" stroke-width="0.9" stroke-linejoin="round"/><polygon points="338.79,171.38 335.09,169.03 335.09,173.73" fill="#fff" stroke="#10CCD0" stroke-width="0.9" stroke-linejoin="round"/><polygon points="345.39,170.96 341.69,168.61 341.69,173.31" fill="#fff" stroke="#10CCD0" stroke-width="0.9" stroke-linejoin="round"/><polygon points="351.57,170.75 347.87,168.4 347.87,173.1" fill="#fff" stroke="#10CCD0" stroke-width="0.9" stroke-linejoin="round"/><polygon points="357.75,170.65 354.05,168.3 354.05,173" fill="#fff" stroke="#10CCD0" stroke-width="0.9" stroke-linejoin="round"/><polygon points="365.99,170.44 362.29,168.09 362.29,172.79" fill="#fff" stroke="#10CCD0" stroke-width="0.9" stroke-linejoin="round"/><polygon points="380.41,170.33 376.71,167.98 376.71,172.68" fill="#fff" stroke="#10CCD0" stroke-width="0.9" stroke-linejoin="round"/><polygon points="392.77,170.02 389.07,167.67 389.07,172.37" fill="#fff" stroke="#10CCD0" stroke-width="0.9" stroke-linejoin="round"/><polygon points="413.37,169.39 409.67,167.04 409.67,171.74" fill="#fff" stroke="#10CCD0" stroke-width="0.9" stroke-linejoin="round"/><polygon points="433.97,169.08 430.27,166.73 430.27,171.43" fill="#fff" stroke="#10CCD0" stroke-width="0.9" stroke-linejoin="round"/><polygon points="475.17,168.77 471.47,166.42 471.47,171.12" fill="#fff" stroke="#10CCD0" stroke-width="0.9" stroke-linejoin="round"/><polygon points="526.67,168.04 522.97,165.69 522.97,170.39" fill="#fff" stroke="#10CCD0" stroke-width="0.9" stroke-linejoin="round"/>
<polyline points="328.91,176.6 331.18,176.07 332.41,175.66 334.27,175.24 336.33,175.03 342.92,174.82 349.1,174.61 355.28,174.51 363.52,174.3 377.94,174.3 390.3,174.19 410.9,174.09 431.5,173.99 472.7,173.88 524.2,173.67" fill="none" stroke="#c09a98" stroke-width="0.8"/>
<circle cx="328.91" cy="176.6" r="1.9" fill="#fff" stroke="#94504E" stroke-width="0.9"/><circle cx="331.18" cy="176.07" r="1.9" fill="#fff" stroke="#94504E" stroke-width="0.9"/><circle cx="332.41" cy="175.66" r="1.9" fill="#fff" stroke="#94504E" stroke-width="0.9"/><circle cx="334.27" cy="175.24" r="1.9" fill="#fff" stroke="#94504E" stroke-width="0.9"/><circle cx="336.33" cy="175.03" r="1.9" fill="#fff" stroke="#94504E" stroke-width="0.9"/><circle cx="342.92" cy="174.82" r="1.9" fill="#fff" stroke="#94504E" stroke-width="0.9"/><circle cx="349.1" cy="174.61" r="1.9" fill="#fff" stroke="#94504E" stroke-width="0.9"/><circle cx="355.28" cy="174.51" r="1.9" fill="#fff" stroke="#94504E" stroke-width="0.9"/><circle cx="363.52" cy="174.3" r="1.9" fill="#fff" stroke="#94504E" stroke-width="0.9"/><circle cx="377.94" cy="174.3" r="1.9" fill="#fff" stroke="#94504E" stroke-width="0.9"/><circle cx="390.3" cy="174.19" r="1.9" fill="#fff" stroke="#94504E" stroke-width="0.9"/><circle cx="410.9" cy="174.09" r="1.9" fill="#fff" stroke="#94504E" stroke-width="0.9"/><circle cx="431.5" cy="173.99" r="1.9" fill="#fff" stroke="#94504E" stroke-width="0.9"/><circle cx="472.7" cy="173.88" r="1.9" fill="#fff" stroke="#94504E" stroke-width="0.9"/><circle cx="524.2" cy="173.67" r="1.9" fill="#fff" stroke="#94504E" stroke-width="0.9"/>
<rect x="326.1" y="9.7" width="208.4" height="168.5" fill="none" stroke="#707070" stroke-width="1.35"/>
<g stroke="#4a4a4a" stroke-width="0.9"><line x1="328.5" y1="178.2" x2="328.5" y2="175.8"/><line x1="369.7" y1="178.2" x2="369.7" y2="175.8"/><line x1="410.9" y1="178.2" x2="410.9" y2="175.8"/><line x1="452.1" y1="178.2" x2="452.1" y2="175.8"/><line x1="493.3" y1="178.2" x2="493.3" y2="175.8"/><line x1="534.5" y1="178.2" x2="534.5" y2="175.8"/><line x1="326.1" y1="176.7" x2="328.5" y2="176.7"/><line x1="326.1" y1="155.82" x2="328.5" y2="155.82"/><line x1="326.1" y1="134.95" x2="328.5" y2="134.95"/><line x1="326.1" y1="114.07" x2="328.5" y2="114.07"/><line x1="326.1" y1="93.2" x2="328.5" y2="93.2"/><line x1="326.1" y1="72.32" x2="328.5" y2="72.32"/><line x1="326.1" y1="51.45" x2="328.5" y2="51.45"/><line x1="326.1" y1="30.57" x2="328.5" y2="30.57"/><line x1="326.1" y1="9.7" x2="328.5" y2="9.7"/></g>
<g font-family="Liberation Serif, serif" stroke="#262626" stroke-width="0.3" font-size="8.5" fill="#262626">
<text x="328.8" y="188.5" text-anchor="middle">0</text>
<text x="370" y="188.5" text-anchor="middle">20</text>
<text x="411.2" y="188.5" text-anchor="middle">40</text>
<text x="452.4" y="188.5" text-anchor="middle">60</text>
<text x="493.6" y="188.5" text-anchor="middle">80</text>
<text x="534.5" y="188.5" text-anchor="middle">100</text>
<text x="322.6" y="179.6" text-anchor="end">0</text>
<text x="322.6" y="158.72" text-anchor="end">200</text>
<text x="322.6" y="137.85" text-anchor="end">400</text>
<text x="322.6" y="116.97" text-anchor="end">600</text>
<text x="322.6" y="96.1" text-anchor="end">800</text>
<text x="322.6" y="75.22" text-anchor="end">1000</text>
<text x="322.6" y="54.35" text-anchor="end">1200</text>
<text x="322.6" y="33.47" text-anchor="end">1400</text>
<text x="322.6" y="12.6" text-anchor="end">1600</text>
</g>
<text font-family="Liberation Serif, serif" stroke="#262626" stroke-width="0.3" font-size="10.4" fill="#262626" text-anchor="middle" transform="translate(300.8,94) rotate(-90)">Shear stress (Pa)</text>
<text font-family="Liberation Serif, serif" stroke="#262626" stroke-width="0.3" font-size="10.4" fill="#262626" text-anchor="middle" x="430.3" y="206.4">Shear rate (s<tspan font-size="6.2" dy="-4.2">-1</tspan><tspan dy="4.2">)</tspan></text>
<text font-family="Liberation Serif, serif" stroke="#262626" stroke-width="0.3" font-size="14.5" font-weight="bold" fill="#1a1a1a" text-anchor="middle" x="416.5" y="229.2">(b)</text>
<text font-family="Liberation Serif, serif" stroke="#262626" stroke-width="0.3" font-size="8.8" fill="#262626" x="329.3" y="17.3">Mass concentration</text>
<line x1="329.3" y1="25.6" x2="348.1" y2="25.6" stroke="#9c9c9c" stroke-width="0.8"/>
<rect x="337.05" y="24.05" width="3.1" height="3.1" fill="#fff" stroke="#515151" stroke-width="0.85"/>
<text font-family="Liberation Serif, serif" stroke="#262626" stroke-width="0.3" font-size="8.7" fill="#262626" x="351.5" y="28.6">79.0%</text>
<line x1="373.75" y1="25.6" x2="392.55" y2="25.6" stroke="#f79090" stroke-width="0.8"/>
<circle cx="383.05" cy="25.6" r="1.9" fill="#fff" stroke="#F14040" stroke-width="0.85"/>
<text font-family="Liberation Serif, serif" stroke="#262626" stroke-width="0.3" font-size="8.7" fill="#262626" x="395.65" y="28.6">76.0%</text>
<line x1="418.2" y1="25.6" x2="437" y2="25.6" stroke="#78aaee" stroke-width="0.8"/>
<polygon points="427.5,23.13 429.85,26.83 425.15,26.83" fill="#fff" stroke="#1A6FDF" stroke-width="0.85" stroke-linejoin="round"/>
<text font-family="Liberation Serif, serif" stroke="#262626" stroke-width="0.3" font-size="8.7" fill="#262626" x="439.8" y="28.6">73.0%</text>
<line x1="462.65" y1="25.6" x2="481.45" y2="25.6" stroke="#88cfa6" stroke-width="0.8"/>
<polygon points="471.95,28.07 474.3,24.37 469.6,24.37" fill="#fff" stroke="#37AD6B" stroke-width="0.85" stroke-linejoin="round"/>
<text font-family="Liberation Serif, serif" stroke="#262626" stroke-width="0.3" font-size="8.7" fill="#262626" x="483.95" y="28.6">70.0%</text>
<line x1="329.3" y1="36.55" x2="348.1" y2="36.55" stroke="#dcb4f2" stroke-width="0.8"/>
<polygon points="338.6,34.05 341.1,36.55 338.6,39.05 336.1,36.55" fill="#fff" stroke="#C07DE8" stroke-width="0.85" stroke-linejoin="round"/>
<text font-family="Liberation Serif, serif" stroke="#262626" stroke-width="0.3" font-size="8.7" fill="#262626" x="351.5" y="39.55">67.5%</text>
<line x1="373.75" y1="36.55" x2="392.55" y2="36.55" stroke="#edc878" stroke-width="0.8"/>
<polygon points="380.58,36.55 384.28,34.2 384.28,38.9" fill="#fff" stroke="#E0A020" stroke-width="0.85" stroke-linejoin="round"/>
<text font-family="Liberation Serif, serif" stroke="#262626" stroke-width="0.3" font-size="8.7" fill="#262626" x="395.65" y="39.55">65.0%</text>
<line x1="418.2" y1="36.55" x2="437" y2="36.55" stroke="#70e2e4" stroke-width="0.8"/>
<polygon points="429.97,36.55 426.27,34.2 426.27,38.9" fill="#fff" stroke="#10CCD0" stroke-width="0.85" stroke-linejoin="round"/>
<text font-family="Liberation Serif, serif" stroke="#262626" stroke-width="0.3" font-size="8.7" fill="#262626" x="439.8" y="39.55">62.5%</text>
<line x1="462.65" y1="36.55" x2="481.45" y2="36.55" stroke="#c09a98" stroke-width="0.8"/>
<circle cx="471.95" cy="36.55" r="1.9" fill="#fff" stroke="#94504E" stroke-width="0.85"/>
<text font-family="Liberation Serif, serif" stroke="#262626" stroke-width="0.3" font-size="8.7" fill="#262626" x="483.95" y="39.55">60.0%</text>
<defs>
<linearGradient id="gg" x1="0" x2="1" y1="0" y2="0"><stop offset="0" stop-color="#1c1c1c"/><stop offset="0.1" stop-color="#5a5a5a"/><stop offset="0.27" stop-color="#adadad"/><stop offset="0.42" stop-color="#cdcdcd"/><stop offset="0.6" stop-color="#cbcbcb"/><stop offset="0.76" stop-color="#a0a0a0"/><stop offset="0.9" stop-color="#4c4c4c"/><stop offset="1" stop-color="#161616"/></linearGradient>
<linearGradient id="gb" x1="0" x2="1" y1="0" y2="0"><stop offset="0" stop-color="#161d24"/><stop offset="0.1" stop-color="#4a5b6a"/><stop offset="0.27" stop-color="#9fb9ce"/><stop offset="0.42" stop-color="#c5ddf0"/><stop offset="0.6" stop-color="#c3dbee"/><stop offset="0.76" stop-color="#93adc2"/><stop offset="0.9" stop-color="#3e4d5b"/><stop offset="1" stop-color="#10161c"/></linearGradient>
</defs>
<path d="M38,408.4 C76.5,408.1 119.1,404.7 150.8,380.7 C185.9,352.2 200.8,307.0 226.4,271.0" fill="none" stroke="#777" stroke-width="0.7" stroke-dasharray="2.2 2"/>
<polygon points="227.4,269.4 226.38,273.66 224.22,272.41" fill="#111"/>
<circle cx="150.8" cy="380.7" r="2.1" fill="#c2c2c2" stroke="#7c7c7c" stroke-width="0.7"/>
<rect x="30.45" y="411.6" width="11.2" height="0.8" fill="url(#gg)" stroke="#111" stroke-width="0.6"/>
<rect x="41.65" y="411.56" width="11.2" height="0.84" fill="url(#gb)" stroke="#111" stroke-width="0.6"/>
<rect x="58.72" y="411.28" width="11.2" height="1.12" fill="url(#gg)" stroke="#111" stroke-width="0.6"/>
<rect x="69.92" y="409.6" width="11.2" height="2.8" fill="url(#gb)" stroke="#111" stroke-width="0.6"/>
<rect x="86.99" y="409.04" width="11.2" height="3.36" fill="url(#gg)" stroke="#111" stroke-width="0.6"/>
<rect x="98.19" y="406.23" width="11.2" height="6.17" fill="url(#gb)" stroke="#111" stroke-width="0.6"/>
<rect x="115.26" y="404.83" width="11.2" height="7.57" fill="url(#gg)" stroke="#111" stroke-width="0.6"/>
<rect x="126.46" y="402.87" width="11.2" height="9.53" fill="url(#gb)" stroke="#111" stroke-width="0.6"/>
<rect x="143.53" y="396.42" width="11.2" height="15.98" fill="url(#gg)" stroke="#111" stroke-width="0.6"/>
<rect x="154.73" y="394.46" width="11.2" height="17.94" fill="url(#gb)" stroke="#111" stroke-width="0.6"/>
<rect x="171.8" y="372.31" width="11.2" height="40.09" fill="url(#gg)" stroke="#111" stroke-width="0.6"/>
<rect x="183" y="365.02" width="11.2" height="47.38" fill="url(#gb)" stroke="#111" stroke-width="0.6"/>
<rect x="200.07" y="320.45" width="11.2" height="91.95" fill="url(#gg)" stroke="#111" stroke-width="0.6"/>
<rect x="211.27" y="311.2" width="11.2" height="101.2" fill="url(#gb)" stroke="#111" stroke-width="0.6"/>
<rect x="228.34" y="286.25" width="11.2" height="126.15" fill="url(#gg)" stroke="#111" stroke-width="0.6"/>
<rect x="239.54" y="269.71" width="11.2" height="142.69" fill="url(#gb)" stroke="#111" stroke-width="0.6"/>
<rect x="27.3" y="244.2" width="225.9" height="168.2" fill="none" stroke="#6e6e6e" stroke-width="1.1"/>
<g stroke="#4a4a4a" stroke-width="0.9"><line x1="41.45" y1="412.4" x2="41.45" y2="410"/><line x1="69.72" y1="412.4" x2="69.72" y2="410"/><line x1="97.99" y1="412.4" x2="97.99" y2="410"/><line x1="126.26" y1="412.4" x2="126.26" y2="410"/><line x1="154.53" y1="412.4" x2="154.53" y2="410"/><line x1="182.8" y1="412.4" x2="182.8" y2="410"/><line x1="211.07" y1="412.4" x2="211.07" y2="410"/><line x1="239.34" y1="412.4" x2="239.34" y2="410"/><line x1="27.3" y1="412.4" x2="29.9" y2="412.4"/><line x1="27.3" y1="384.37" x2="29.9" y2="384.37"/><line x1="27.3" y1="356.33" x2="29.9" y2="356.33"/><line x1="27.3" y1="328.3" x2="29.9" y2="328.3"/><line x1="27.3" y1="300.27" x2="29.9" y2="300.27"/><line x1="27.3" y1="272.23" x2="29.9" y2="272.23"/><line x1="27.3" y1="244.2" x2="29.9" y2="244.2"/></g>
<g font-family="Liberation Serif, serif" stroke="#262626" stroke-width="0.3" font-size="8.7" fill="#262626">
<text x="41.65" y="423.3" text-anchor="middle" textLength="17.5" lengthAdjust="spacingAndGlyphs">60.0</text>
<text x="69.92" y="423.3" text-anchor="middle" textLength="17.5" lengthAdjust="spacingAndGlyphs">62.5</text>
<text x="98.19" y="423.3" text-anchor="middle" textLength="17.5" lengthAdjust="spacingAndGlyphs">65.0</text>
<text x="126.46" y="423.3" text-anchor="middle" textLength="17.5" lengthAdjust="spacingAndGlyphs">67.5</text>
<text x="154.73" y="423.3" text-anchor="middle" textLength="17.5" lengthAdjust="spacingAndGlyphs">70.0</text>
<text x="183" y="423.3" text-anchor="middle" textLength="17.5" lengthAdjust="spacingAndGlyphs">73.0</text>
<text x="211.27" y="423.3" text-anchor="middle" textLength="17.5" lengthAdjust="spacingAndGlyphs">76.0</text>
<text x="239.54" y="423.3" text-anchor="middle" textLength="17.5" lengthAdjust="spacingAndGlyphs">79.0</text>
<text x="23.6" y="415.2" text-anchor="end" textLength="4.6" lengthAdjust="spacingAndGlyphs">0</text>
<text x="23.6" y="387.17" text-anchor="end" textLength="4.6" lengthAdjust="spacingAndGlyphs">1</text>
<text x="23.6" y="359.13" text-anchor="end" textLength="4.6" lengthAdjust="spacingAndGlyphs">2</text>
<text x="23.6" y="331.1" text-anchor="end" textLength="4.6" lengthAdjust="spacingAndGlyphs">3</text>
<text x="23.6" y="303.07" text-anchor="end" textLength="4.6" lengthAdjust="spacingAndGlyphs">4</text>
<text x="23.6" y="275.03" text-anchor="end" textLength="4.6" lengthAdjust="spacingAndGlyphs">5</text>
<text x="23.6" y="247" text-anchor="end" textLength="4.6" lengthAdjust="spacingAndGlyphs">6</text>
</g>
<text font-family="Liberation Serif, serif" stroke="#262626" stroke-width="0.3" font-size="10.4" fill="#262626" text-anchor="middle" textLength="63.5" lengthAdjust="spacingAndGlyphs" transform="translate(12.8,329.8) rotate(-90)">Viscosity (Pa·s)</text>
<text font-family="Liberation Serif, serif" stroke="#262626" stroke-width="0.3" font-size="10.4" fill="#262626" text-anchor="middle" textLength="105.8" lengthAdjust="spacingAndGlyphs" x="140.5" y="440.3">Mass concentration (%)</text>
<text font-family="Liberation Serif, serif" stroke="#262626" stroke-width="0.3" font-size="14.5" font-weight="bold" fill="#1a1a1a" text-anchor="middle" x="128.6" y="462.1">(c)</text>
<rect x="34.4" y="248.2" width="23.4" height="10" fill="url(#gg)" stroke="#111" stroke-width="0.6"/>
<rect x="34.4" y="260.2" width="23.4" height="10" fill="url(#gb)" stroke="#111" stroke-width="0.6"/>
<text font-family="Liberation Serif, serif" stroke="#262626" stroke-width="0.3" font-size="10" fill="#262626" x="60.6" y="256.6" textLength="59.5" lengthAdjust="spacingAndGlyphs">Tailings slurry</text>
<text font-family="Liberation Serif, serif" stroke="#262626" stroke-width="0.3" font-size="10" fill="#262626" x="60.6" y="268.6" textLength="53.4" lengthAdjust="spacingAndGlyphs">Filling slurry</text>
<text font-family="Liberation Serif, serif" stroke="#262626" stroke-width="0.3" font-size="9.6" fill="#262626" text-anchor="middle" textLength="49" lengthAdjust="spacingAndGlyphs" transform="translate(79.5,396.4) rotate(-10)" y="3.2">Slow lifting</text>
<text font-family="Liberation Serif, serif" stroke="#262626" stroke-width="0.3" font-size="9.6" fill="#262626" text-anchor="middle" textLength="49.5" lengthAdjust="spacingAndGlyphs" transform="translate(188.9,318.9) rotate(-56)" y="3.2">Rapid lifting</text>
<path d="M332.5,409.4 C372.1,401.1 412.2,387.2 443.2,360.5 C474.7,332.5 496.7,295.8 517.2,259.5" fill="none" stroke="#777" stroke-width="0.7" stroke-dasharray="2.2 2"/>
<polygon points="518.2,257.8 517.18,262.06 515.02,260.81" fill="#111"/>
<circle cx="443.2" cy="360.5" r="1.5" fill="#c2c2c2" stroke="#7c7c7c" stroke-width="0.7"/>
<rect x="331.55" y="410.24" width="10.35" height="2.36" fill="url(#gg)" stroke="#111" stroke-width="0.6"/>
<rect x="341.9" y="409.39" width="10.35" height="3.21" fill="url(#gb)" stroke="#111" stroke-width="0.6"/>
<rect x="358.21" y="409.22" width="10.35" height="3.38" fill="url(#gg)" stroke="#111" stroke-width="0.6"/>
<rect x="368.56" y="404.5" width="10.35" height="8.1" fill="url(#gb)" stroke="#111" stroke-width="0.6"/>
<rect x="384.87" y="402.81" width="10.35" height="9.79" fill="url(#gg)" stroke="#111" stroke-width="0.6"/>
<rect x="395.22" y="397.91" width="10.35" height="14.69" fill="url(#gb)" stroke="#111" stroke-width="0.6"/>
<rect x="411.53" y="396.23" width="10.35" height="16.37" fill="url(#gg)" stroke="#111" stroke-width="0.6"/>
<rect x="421.88" y="389.47" width="10.35" height="23.13" fill="url(#gb)" stroke="#111" stroke-width="0.6"/>
<rect x="438.19" y="385.25" width="10.35" height="27.35" fill="url(#gg)" stroke="#111" stroke-width="0.6"/>
<rect x="448.54" y="379.18" width="10.35" height="33.42" fill="url(#gb)" stroke="#111" stroke-width="0.6"/>
<rect x="464.85" y="355.21" width="10.35" height="57.39" fill="url(#gg)" stroke="#111" stroke-width="0.6"/>
<rect x="475.2" y="328.2" width="10.35" height="84.4" fill="url(#gb)" stroke="#111" stroke-width="0.6"/>
<rect x="491.51" y="326.68" width="10.35" height="85.92" fill="url(#gg)" stroke="#111" stroke-width="0.6"/>
<rect x="501.86" y="289.04" width="10.35" height="123.56" fill="url(#gb)" stroke="#111" stroke-width="0.6"/>
<rect x="518.17" y="281.27" width="10.35" height="131.33" fill="url(#gg)" stroke="#111" stroke-width="0.6"/>
<rect x="528.52" y="258.49" width="10.35" height="154.11" fill="url(#gb)" stroke="#111" stroke-width="0.6"/>
<rect x="328.6" y="243.8" width="212.7" height="168.8" fill="none" stroke="#6e6e6e" stroke-width="1.1"/>
<g stroke="#4a4a4a" stroke-width="0.9"><line x1="341.9" y1="412.6" x2="341.9" y2="410.2"/><line x1="368.56" y1="412.6" x2="368.56" y2="410.2"/><line x1="395.22" y1="412.6" x2="395.22" y2="410.2"/><line x1="421.88" y1="412.6" x2="421.88" y2="410.2"/><line x1="448.54" y1="412.6" x2="448.54" y2="410.2"/><line x1="475.2" y1="412.6" x2="475.2" y2="410.2"/><line x1="501.86" y1="412.6" x2="501.86" y2="410.2"/><line x1="528.52" y1="412.6" x2="528.52" y2="410.2"/><line x1="328.6" y1="412.6" x2="331.2" y2="412.6"/><line x1="328.6" y1="378.84" x2="331.2" y2="378.84"/><line x1="328.6" y1="345.08" x2="331.2" y2="345.08"/><line x1="328.6" y1="311.32" x2="331.2" y2="311.32"/><line x1="328.6" y1="277.56" x2="331.2" y2="277.56"/><line x1="328.6" y1="243.8" x2="331.2" y2="243.8"/></g>
<g font-family="Liberation Serif, serif" stroke="#262626" stroke-width="0.3" font-size="8.7" fill="#262626">
<text x="342.1" y="423" text-anchor="middle" textLength="16.6" lengthAdjust="spacingAndGlyphs">60.0</text>
<text x="368.76" y="423" text-anchor="middle" textLength="16.6" lengthAdjust="spacingAndGlyphs">62.5</text>
<text x="395.42" y="423" text-anchor="middle" textLength="16.6" lengthAdjust="spacingAndGlyphs">65.0</text>
<text x="422.08" y="423" text-anchor="middle" textLength="16.6" lengthAdjust="spacingAndGlyphs">67.5</text>
<text x="448.74" y="423" text-anchor="middle" textLength="16.6" lengthAdjust="spacingAndGlyphs">70.0</text>
<text x="475.4" y="423" text-anchor="middle" textLength="16.6" lengthAdjust="spacingAndGlyphs">73.0</text>
<text x="502.06" y="423" text-anchor="middle" textLength="16.6" lengthAdjust="spacingAndGlyphs">76.0</text>
<text x="528.72" y="423" text-anchor="middle" textLength="16.6" lengthAdjust="spacingAndGlyphs">79.0</text>
<text x="324.6" y="415.4" text-anchor="end" textLength="4.58" lengthAdjust="spacingAndGlyphs">0</text>
<text x="324.6" y="381.64" text-anchor="end" textLength="13.74" lengthAdjust="spacingAndGlyphs">200</text>
<text x="324.6" y="347.88" text-anchor="end" textLength="13.74" lengthAdjust="spacingAndGlyphs">400</text>
<text x="324.6" y="314.12" text-anchor="end" textLength="13.74" lengthAdjust="spacingAndGlyphs">600</text>
<text x="324.6" y="280.36" text-anchor="end" textLength="13.74" lengthAdjust="spacingAndGlyphs">800</text>
<text x="324.6" y="246.6" text-anchor="end" textLength="18.32" lengthAdjust="spacingAndGlyphs">1000</text>
</g>
<text font-family="Liberation Serif, serif" stroke="#262626" stroke-width="0.3" font-size="10.4" fill="#262626" text-anchor="middle" textLength="64" lengthAdjust="spacingAndGlyphs" transform="translate(300.3,329.5) rotate(-90)">Yield stress (Pa)</text>
<text font-family="Liberation Serif, serif" stroke="#262626" stroke-width="0.3" font-size="10.4" fill="#262626" text-anchor="middle" textLength="100.2" lengthAdjust="spacingAndGlyphs" x="434.9" y="440.3">Mass concentration (%)</text>
<text font-family="Liberation Serif, serif" stroke="#262626" stroke-width="0.3" font-size="14.5" font-weight="bold" fill="#1a1a1a" text-anchor="middle" x="416.5" y="462.2">(d)</text>
<rect x="335.8" y="248.2" width="21.6" height="10" fill="url(#gg)" stroke="#111" stroke-width="0.6"/>
<rect x="335.8" y="260.2" width="21.6" height="10" fill="url(#gb)" stroke="#111" stroke-width="0.6"/>
<text font-family="Liberation Serif, serif" stroke="#262626" stroke-width="0.3" font-size="10" fill="#262626" x="360" y="256.6" textLength="56" lengthAdjust="spacingAndGlyphs">Tailings slurry</text>
<text font-family="Liberation Serif, serif" stroke="#262626" stroke-width="0.3" font-size="10" fill="#262626" x="360" y="268.6" textLength="49.6" lengthAdjust="spacingAndGlyphs">Filling slurry</text>
<text font-family="Liberation Serif, serif" stroke="#262626" stroke-width="0.3" font-size="9.5" fill="#262626" text-anchor="middle" textLength="46" lengthAdjust="spacingAndGlyphs" transform="translate(384.3,386.8) rotate(-21.5)" y="3.2">Slow lifting</text>
<text font-family="Liberation Serif, serif" stroke="#262626" stroke-width="0.3" font-size="9.5" fill="#262626" text-anchor="middle" textLength="47.5" lengthAdjust="spacingAndGlyphs" transform="translate(479.4,302.9) rotate(-51)" y="3.2">Rapid lifting</text>
</svg></body></html>
